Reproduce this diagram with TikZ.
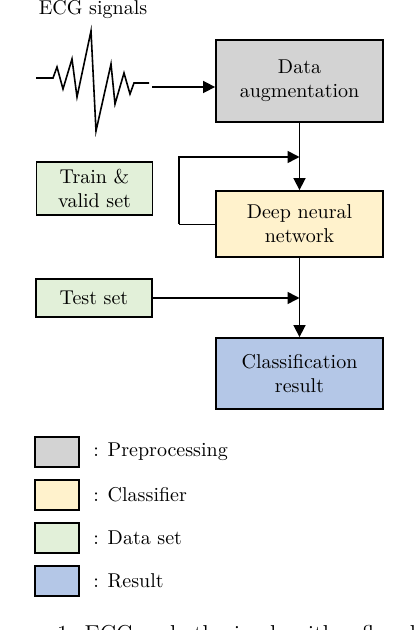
\documentclass[tikz,border=0pt]{standalone}
\usetikzlibrary{arrows.meta,positioning,calc}
\definecolor{prepgray}{HTML}{D3D3D3}
\definecolor{clsyellow}{HTML}{FFF2CC}
\definecolor{setgreen}{HTML}{E2F0D9}
\definecolor{resblue}{HTML}{B4C7E7}
\tikzset{x=0.5pt, y=-0.5pt, % one unit is one pixel of the reference
        box/.style={ % Sets the properties for each block
            draw,
            line width=0.9pt,
            align=center,
            inner sep=0pt},
        bigbox/.style={box, minimum width=83.5pt},
        setbox/.style={box, fill=setgreen, minimum width=58pt},
        key/.style={ % Small squares of the legend
            draw,
            line width=0.9pt,
            minimum width=22pt,
            minimum height=15pt,
            inner sep=0pt},
        keytext/.style={right=6.5pt of #1, inner sep=0pt},
        every edge/.style={ % Sets the properties for each connector
            draw,
            -{Triangle[length=6pt,width=6pt]},
            line width=0.8pt}
        }

\begin{document}
\begin{tikzpicture}
    \clip (0,0) rectangle (418,630);
    \fill[white] (0,0) rectangle (418,630);

    % signal
    \node[anchor=base] (ecg) at (93,15) {ECG signals};
    \draw[line width=0.8pt, line join=miter] (36,78) -- (53,78) -- (57,67) -- (63,89) -- (72,59)
        -- (77,97) -- (91,31) -- (96,131) -- (111,64) -- (115,104) -- (124,73)
        -- (130,94) -- (134,83) -- (149,83);
    \coordinate (sig) at (152,87);

    \node[bigbox, fill=prepgray, minimum height=41pt] (aug) at (299.5,81) {Data\\augmentation};
    \node[bigbox, fill=clsyellow, minimum height=33pt] (dnn) at (299.5,224) {Deep neural\\network};
    \node[bigbox, fill=resblue, minimum height=35.5pt] (res) at (299.5,373.5) {Classification\\result};

    \node[setbox, minimum height=26.5pt] (train) at (94.5,188.5) {Train \&\\valid set};
    \node[setbox, minimum height=19pt] (test) at (94,298) {Test set};

    \coordinate (fb) at (299.5,157);
    \coordinate (tj) at (299.5,298);

    \draw (sig) edge (sig -| aug.west);
    \draw (aug) edge (dnn);
    \draw (dnn.west) -- ++(-36,0) edge[to path={|- (\tikztotarget)}] (fb);
    \draw (dnn) edge (res);
    \draw (test) edge (tj);

    % legend
    \node[key, fill=prepgray] (k1) at (57,452) {};
    \node[keytext=k1] {: Preprocessing};
    \node[key, fill=clsyellow] (k2) at (57,495) {};
    \node[keytext=k2] {: Classifier};
    \node[key, fill=setgreen] (k3) at (57,538) {};
    \node[keytext=k3] {: Data set};
    \node[key, fill=resblue] (k4) at (57,581) {};
    \node[keytext=k4] {: Result};

    \node[anchor=base west, font=\fontsize{11.5}{14}\selectfont] (cap) at (50,641)
        {1: ECG arrhythmia algorithm flowchart.};
\end{tikzpicture}
\end{document}
